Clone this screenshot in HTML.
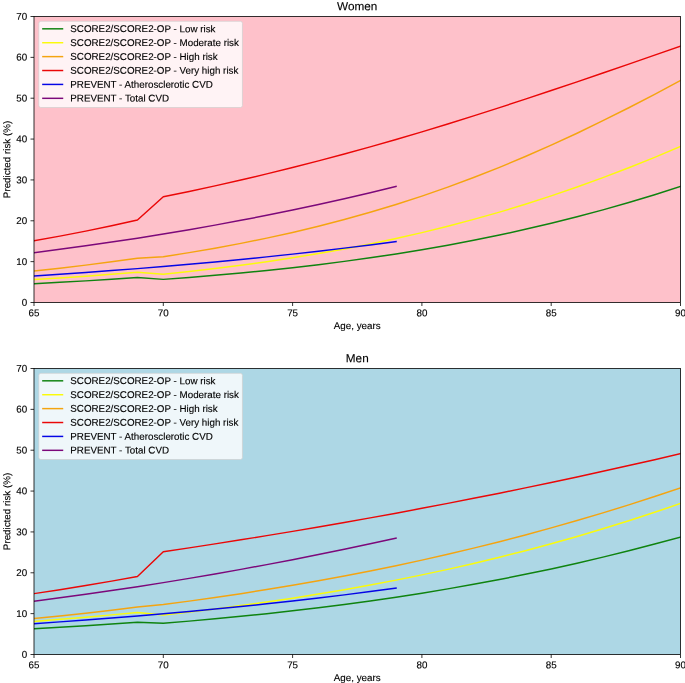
<!DOCTYPE html>
<html lang="en"><head><meta charset="utf-8"><title>Predicted risk by age</title>
<style>html,body{margin:0;padding:0;background:#fff}body{width:685px;height:683px;overflow:hidden}svg{display:block;text-rendering:geometricPrecision}text{stroke:#000;stroke-width:.13px}</style></head>
<body>
<svg width="685" height="683" viewBox="0 0 685 683" font-family="'Liberation Sans', Arial, sans-serif" font-size="9.8" fill="#000">
<rect width="685" height="683" fill="#fff"/>
<g>
<rect x="34.0" y="16.5" width="646.5" height="286.0" fill="#fec1ca"/>
<clipPath id="c0"><rect x="34.0" y="16.5" width="646.5" height="286.0"/></clipPath>
<g clip-path="url(#c0)" fill="none" stroke-width="1.47" stroke-linejoin="round" stroke-linecap="square">
<polyline points="34.00,283.72 59.86,282.34 85.72,280.86 111.58,279.27 137.44,277.56 163.30,279.39 189.16,277.44 215.02,275.31 240.88,272.99 266.74,270.45 292.60,267.68 318.46,264.66 344.32,261.37 370.18,257.80 396.04,253.93 421.90,249.73 447.76,245.19 473.62,240.29 499.48,235.01 525.34,229.34 551.20,223.26 577.06,216.77 602.92,209.84 628.78,202.48 654.64,194.68 680.50,186.47" stroke="#0f830f"/>
<polyline points="34.00,279.60 59.86,277.95 85.72,276.18 111.58,274.28 137.44,272.25 163.30,274.29 189.16,271.57 215.02,268.59 240.88,265.32 266.74,261.75 292.60,257.85 318.46,253.59 344.32,248.96 370.18,243.94 396.04,238.49 421.90,232.60 447.76,226.25 473.62,219.41 499.48,212.09 525.34,204.25 551.20,195.90 577.06,187.03 602.92,177.64 628.78,167.75 654.64,157.36 680.50,146.50" stroke="#fbfb0a"/>
<polyline points="34.00,271.03 59.86,268.21 85.72,265.14 111.58,261.80 137.44,258.16 163.30,256.69 189.16,252.64 215.02,248.22 240.88,243.39 266.74,238.14 292.60,232.43 318.46,226.23 344.32,219.52 370.18,212.27 396.04,204.47 421.90,196.08 447.76,187.11 473.62,177.53 499.48,167.34 525.34,156.55 551.20,145.17 577.06,133.21 602.92,120.71 628.78,107.72 654.64,94.28 680.50,80.48" stroke="#f4a410"/>
<polyline points="34.00,240.77 59.86,236.12 85.72,231.12 111.58,225.73 137.44,219.95 163.30,196.80 189.16,191.45 215.02,185.86 240.88,180.01 266.74,173.90 292.60,167.53 318.46,160.89 344.32,154.00 370.18,146.86 396.04,139.46 421.90,131.83 447.76,123.97 473.62,115.90 499.48,107.62 525.34,99.17 551.20,90.57 577.06,81.83 602.92,72.99 628.78,64.09 654.64,55.15 680.50,46.22" stroke="#ea0707"/>
<polyline points="34.00,275.92 59.86,274.25 85.72,272.47 111.58,270.60 137.44,268.61 163.30,266.51 189.16,264.29 215.02,261.95 240.88,259.48 266.74,256.86 292.60,254.11 318.46,251.20 344.32,248.13 370.18,244.90 396.04,241.51" stroke="#0505e6"/>
<polyline points="34.00,252.65 59.86,249.32 85.72,245.79 111.58,242.07 137.44,238.15 163.30,234.03 189.16,229.69 215.02,225.13 240.88,220.33 266.74,215.30 292.60,210.03 318.46,204.50 344.32,198.71 370.18,192.66 396.04,186.35" stroke="#7c087a"/>
</g>
<path d="M34.00,302.5v3.5 M163.30,302.5v3.5 M292.60,302.5v3.5 M421.90,302.5v3.5 M551.20,302.5v3.5 M680.50,302.5v3.5 M34.0,302.50h-3.5 M34.0,261.64h-3.5 M34.0,220.79h-3.5 M34.0,179.93h-3.5 M34.0,139.07h-3.5 M34.0,98.21h-3.5 M34.0,57.36h-3.5 M34.0,16.50h-3.5" stroke="#000" stroke-width="0.8" fill="none"/>
<rect x="34.0" y="16.5" width="646.5" height="286.0" fill="none" stroke="#000" stroke-width="0.8"/>
<text transform="translate(34.00,316.15) rotate(0.04)" text-anchor="middle">65</text>
<text transform="translate(163.30,316.15) rotate(0.04)" text-anchor="middle">70</text>
<text transform="translate(292.60,316.15) rotate(0.04)" text-anchor="middle">75</text>
<text transform="translate(421.90,316.15) rotate(0.04)" text-anchor="middle">80</text>
<text transform="translate(551.20,316.15) rotate(0.04)" text-anchor="middle">85</text>
<text transform="translate(680.50,316.15) rotate(0.04)" text-anchor="middle">90</text>
<text transform="translate(27.10,305.75) rotate(0.04)" text-anchor="end">0</text>
<text transform="translate(27.10,264.89) rotate(0.04)" text-anchor="end">10</text>
<text transform="translate(27.10,224.04) rotate(0.04)" text-anchor="end">20</text>
<text transform="translate(27.10,183.18) rotate(0.04)" text-anchor="end">30</text>
<text transform="translate(27.10,142.32) rotate(0.04)" text-anchor="end">40</text>
<text transform="translate(27.10,101.46) rotate(0.04)" text-anchor="end">50</text>
<text transform="translate(27.10,60.61) rotate(0.04)" text-anchor="end">60</text>
<text transform="translate(27.10,19.75) rotate(0.04)" text-anchor="end">70</text>
<text transform="translate(357.25,328.90) rotate(0.04)" text-anchor="middle">Age, years</text>
<text transform="translate(10.35,159.50) rotate(-89.96)" text-anchor="middle">Predicted risk (%)</text>
<text transform="translate(357.25,10.30) rotate(0.04)" text-anchor="middle" font-size="11.76">Women</text>
<rect x="38.8" y="21.3" width="203.65" height="86.2" rx="2" ry="2" fill="#fff" fill-opacity="0.8" stroke="#ccc" stroke-opacity="0.8" stroke-width="0.8"/>
<path d="M42.9,28.82h19.6" stroke="#0f830f" stroke-width="1.47" stroke-linecap="square" fill="none"/>
<text transform="translate(70.30,32.06) rotate(0.04)">SCORE2/SCORE2-OP - Low risk</text>
<path d="M42.9,42.72h19.6" stroke="#fbfb0a" stroke-width="1.47" stroke-linecap="square" fill="none"/>
<text transform="translate(70.30,45.96) rotate(0.04)">SCORE2/SCORE2-OP - Moderate risk</text>
<path d="M42.9,56.62h19.6" stroke="#f4a410" stroke-width="1.47" stroke-linecap="square" fill="none"/>
<text transform="translate(70.30,59.86) rotate(0.04)">SCORE2/SCORE2-OP - High risk</text>
<path d="M42.9,70.52h19.6" stroke="#ea0707" stroke-width="1.47" stroke-linecap="square" fill="none"/>
<text transform="translate(70.30,73.76) rotate(0.04)">SCORE2/SCORE2-OP - Very high risk</text>
<path d="M42.9,84.42h19.6" stroke="#0505e6" stroke-width="1.47" stroke-linecap="square" fill="none"/>
<text transform="translate(70.30,87.66) rotate(0.04)">PREVENT - Atherosclerotic CVD</text>
<path d="M42.9,98.32h19.6" stroke="#7c087a" stroke-width="1.47" stroke-linecap="square" fill="none"/>
<text transform="translate(70.30,101.56) rotate(0.04)">PREVENT - Total CVD</text>
</g>
<g>
<rect x="34.0" y="368.5" width="646.5" height="286.0" fill="#add7e5"/>
<clipPath id="c1"><rect x="34.0" y="368.5" width="646.5" height="286.0"/></clipPath>
<g clip-path="url(#c1)" fill="none" stroke-width="1.47" stroke-linejoin="round" stroke-linecap="square">
<polyline points="34.00,628.74 59.86,627.24 85.72,625.66 111.58,623.98 137.44,622.21 163.30,623.27 189.16,621.13 215.02,618.83 240.88,616.35 266.74,613.68 292.60,610.82 318.46,607.75 344.32,604.46 370.18,600.94 396.04,597.18 421.90,593.16 447.76,588.88 473.62,584.32 499.48,579.48 525.34,574.34 551.20,568.91 577.06,563.17 602.92,557.12 628.78,550.75 654.64,544.08 680.50,537.08" stroke="#0f830f"/>
<polyline points="34.00,621.39 59.86,619.34 85.72,617.17 111.58,614.86 137.44,612.41 163.30,615.06 189.16,612.12 215.02,608.97 240.88,605.60 266.74,602.00 292.60,598.16 318.46,594.07 344.32,589.71 370.18,585.06 396.04,580.13 421.90,574.90 447.76,569.35 473.62,563.47 499.48,557.25 525.34,550.69 551.20,543.76 577.06,536.47 602.92,528.81 628.78,520.76 654.64,512.32 680.50,503.48" stroke="#fbfb0a"/>
<polyline points="34.00,618.53 59.86,615.96 85.72,613.21 111.58,610.26 137.44,607.10 163.30,604.53 189.16,601.11 215.02,597.49 240.88,593.65 266.74,589.60 292.60,585.31 318.46,580.79 344.32,576.01 370.18,570.98 396.04,565.69 421.90,560.12 447.76,554.27 473.62,548.13 499.48,541.69 525.34,534.95 551.20,527.91 577.06,520.55 602.92,512.88 628.78,504.88 654.64,496.57 680.50,487.92" stroke="#f4a410"/>
<polyline points="34.00,593.63 59.86,589.72 85.72,585.57 111.58,581.15 137.44,576.44 163.30,551.74 189.16,547.86 215.02,543.89 240.88,539.82 266.74,535.64 292.60,531.36 318.46,526.97 344.32,522.48 370.18,517.87 396.04,513.16 421.90,508.33 447.76,503.39 473.62,498.34 499.48,493.17 525.34,487.88 551.20,482.48 577.06,476.96 602.92,471.32 628.78,465.56 654.64,459.68 680.50,453.67" stroke="#ea0707"/>
<polyline points="34.00,623.64 59.86,621.87 85.72,620.01 111.58,618.05 137.44,615.98 163.30,613.80 189.16,611.50 215.02,609.08 240.88,606.53 266.74,603.84 292.60,601.01 318.46,598.03 344.32,594.89 370.18,591.59 396.04,588.12" stroke="#0505e6"/>
<polyline points="34.00,601.18 59.86,597.80 85.72,594.25 111.58,590.54 137.44,586.66 163.30,582.61 189.16,578.38 215.02,573.98 240.88,569.40 266.74,564.64 292.60,559.69 318.46,554.56 344.32,549.25 370.18,543.75 396.04,538.10" stroke="#7c087a"/>
</g>
<path d="M34.00,654.5v3.5 M163.30,654.5v3.5 M292.60,654.5v3.5 M421.90,654.5v3.5 M551.20,654.5v3.5 M680.50,654.5v3.5 M34.0,654.50h-3.5 M34.0,613.64h-3.5 M34.0,572.79h-3.5 M34.0,531.93h-3.5 M34.0,491.07h-3.5 M34.0,450.21h-3.5 M34.0,409.36h-3.5 M34.0,368.50h-3.5" stroke="#000" stroke-width="0.8" fill="none"/>
<rect x="34.0" y="368.5" width="646.5" height="286.0" fill="none" stroke="#000" stroke-width="0.8"/>
<text transform="translate(34.00,668.15) rotate(0.04)" text-anchor="middle">65</text>
<text transform="translate(163.30,668.15) rotate(0.04)" text-anchor="middle">70</text>
<text transform="translate(292.60,668.15) rotate(0.04)" text-anchor="middle">75</text>
<text transform="translate(421.90,668.15) rotate(0.04)" text-anchor="middle">80</text>
<text transform="translate(551.20,668.15) rotate(0.04)" text-anchor="middle">85</text>
<text transform="translate(680.50,668.15) rotate(0.04)" text-anchor="middle">90</text>
<text transform="translate(27.10,657.75) rotate(0.04)" text-anchor="end">0</text>
<text transform="translate(27.10,616.89) rotate(0.04)" text-anchor="end">10</text>
<text transform="translate(27.10,576.04) rotate(0.04)" text-anchor="end">20</text>
<text transform="translate(27.10,535.18) rotate(0.04)" text-anchor="end">30</text>
<text transform="translate(27.10,494.32) rotate(0.04)" text-anchor="end">40</text>
<text transform="translate(27.10,453.46) rotate(0.04)" text-anchor="end">50</text>
<text transform="translate(27.10,412.61) rotate(0.04)" text-anchor="end">60</text>
<text transform="translate(27.10,371.75) rotate(0.04)" text-anchor="end">70</text>
<text transform="translate(357.25,680.90) rotate(0.04)" text-anchor="middle">Age, years</text>
<text transform="translate(10.35,511.50) rotate(-89.96)" text-anchor="middle">Predicted risk (%)</text>
<text transform="translate(357.25,362.30) rotate(0.04)" text-anchor="middle" font-size="11.76">Men</text>
<rect x="38.8" y="373.3" width="203.65" height="86.2" rx="2" ry="2" fill="#fff" fill-opacity="0.8" stroke="#ccc" stroke-opacity="0.8" stroke-width="0.8"/>
<path d="M42.9,380.82h19.6" stroke="#0f830f" stroke-width="1.47" stroke-linecap="square" fill="none"/>
<text transform="translate(70.30,384.06) rotate(0.04)">SCORE2/SCORE2-OP - Low risk</text>
<path d="M42.9,394.72h19.6" stroke="#fbfb0a" stroke-width="1.47" stroke-linecap="square" fill="none"/>
<text transform="translate(70.30,397.96) rotate(0.04)">SCORE2/SCORE2-OP - Moderate risk</text>
<path d="M42.9,408.62h19.6" stroke="#f4a410" stroke-width="1.47" stroke-linecap="square" fill="none"/>
<text transform="translate(70.30,411.86) rotate(0.04)">SCORE2/SCORE2-OP - High risk</text>
<path d="M42.9,422.52h19.6" stroke="#ea0707" stroke-width="1.47" stroke-linecap="square" fill="none"/>
<text transform="translate(70.30,425.76) rotate(0.04)">SCORE2/SCORE2-OP - Very high risk</text>
<path d="M42.9,436.42h19.6" stroke="#0505e6" stroke-width="1.47" stroke-linecap="square" fill="none"/>
<text transform="translate(70.30,439.66) rotate(0.04)">PREVENT - Atherosclerotic CVD</text>
<path d="M42.9,450.32h19.6" stroke="#7c087a" stroke-width="1.47" stroke-linecap="square" fill="none"/>
<text transform="translate(70.30,453.56) rotate(0.04)">PREVENT - Total CVD</text>
</g>
</svg>
</body></html>
